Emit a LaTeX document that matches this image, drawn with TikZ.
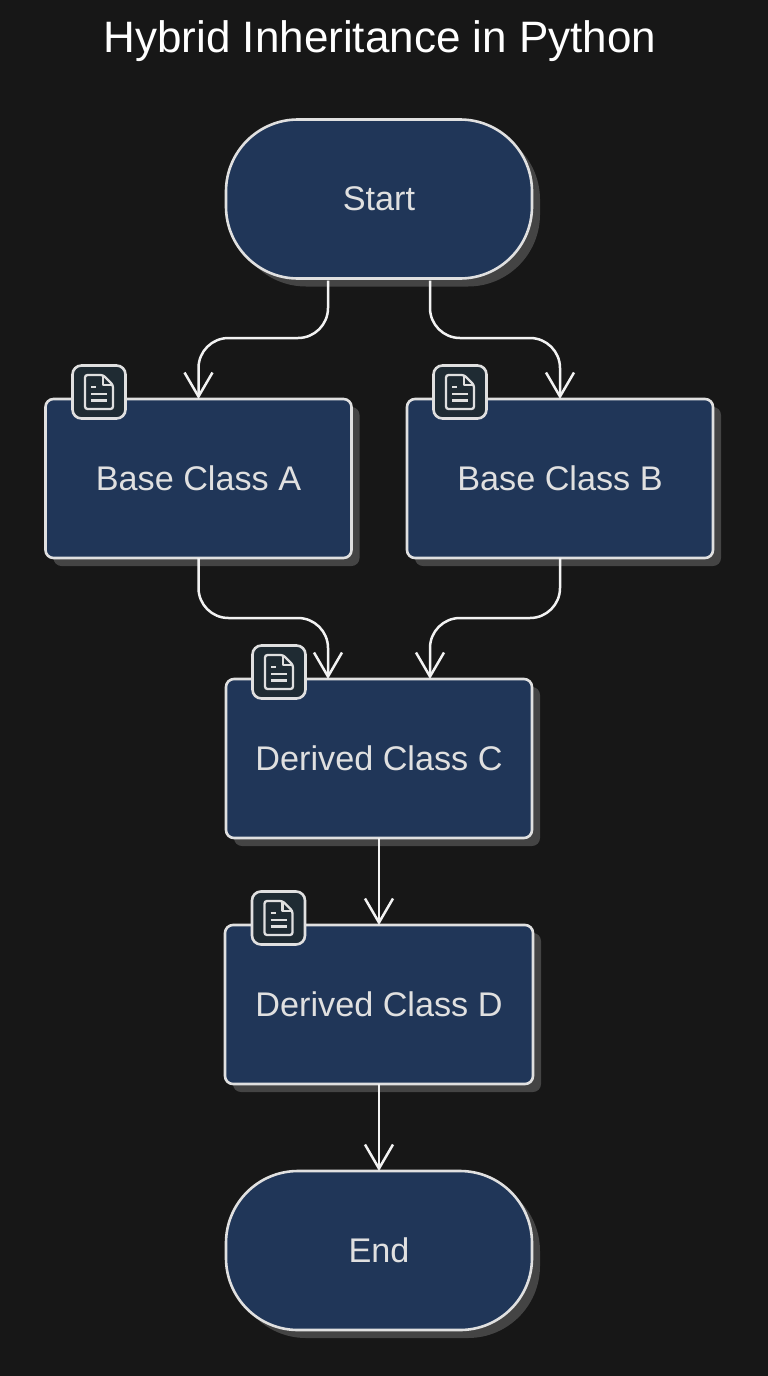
\documentclass[tikz,border=0pt]{standalone}
\usepackage{fontspec}
\setmainfont{Liberation Sans}
\usetikzlibrary{arrows.meta,shadows,calc}
\definecolor{bgc}{HTML}{171717}
\definecolor{nodefill}{HTML}{203658}
\definecolor{edgec}{HTML}{E0E0E0}
\definecolor{shadowc}{HTML}{444444}
\definecolor{iconfill}{HTML}{1F2B33}
\tikzset{
  base/.style={draw=edgec,line width=2.6pt,fill=nodefill,text=edgec,font=\fontsize{34.2}{36}\selectfont,
    minimum width=306pt,minimum height=159pt,inner sep=0pt,outer sep=0pt,
    drop shadow={shadow xshift=8pt,shadow yshift=-8pt,fill=shadowc,opacity=1}},
  stadium/.style={base,rounded corners=72pt},
  boxnode/.style={base,rounded corners=8pt},
  iconbox/.style={draw=edgec,line width=2.6pt,fill=iconfill,rounded corners=9pt,minimum width=53pt,minimum height=53pt,inner sep=0pt,outer sep=0pt},
  conn/.style={draw=white!95!black,line width=2.5pt,-{Straight Barb[length=24pt,width=28pt,line width=2.5pt]}},
  curved/.style={conn,rounded corners=30pt},
  docicon/.pic={
    \draw[edgec,line width=2.3pt,line join=round,rounded corners=2.5pt] (-14,-17) -- (4,-17) -- (14,-7) -- (14,17) -- (-14,17) -- cycle;
    \draw[edgec,line width=2.3pt,line join=round] (4,-17) -- (4,-7) -- (14,-7);
    \draw[edgec,line width=2.3pt] (-8,-5) -- (-3,-5) (-8,2) -- (8,2) (-8,8.5) -- (8,8.5);
  }
}
\begin{document}
\begin{tikzpicture}[x=1pt,y=-1pt]
\fill[bgc] (0,0) rectangle (768,1376);
\useasboundingbox (0,0) rectangle (768,1376);
\node[text=white,font=\fontsize{44}{48}\selectfont,inner sep=0pt] (title) at (380,41) {Hybrid Inheritance in Python};
\node[stadium] (start) at (379,199) {Start};
\node[boxnode] (a) at (198.5,478.5) {Base Class A};
\node[boxnode] (b) at (560,478.5) {Base Class B};
\node[boxnode] (c) at (379,758.5) {Derived Class C};
\node[boxnode,minimum width=308pt] (d) at (379,1004.5) {Derived Class D};
\node[stadium] (end) at (379,1250.5) {End};
\node[iconbox] (ia) at (99,392) {};
\node[iconbox] (ib) at (460,392) {};
\node[iconbox] (ic) at (279,672) {};
\node[iconbox] (id) at (278.5,918) {};
\pic at (ia) {docicon};
\pic at (ib) {docicon};
\pic at (ic) {docicon};
\pic at (id) {docicon};
\coordinate (sl) at ($(start.south)+(-51,2)$);
\coordinate (sr) at ($(start.south)+(51,2)$);
\coordinate (cl) at ($(c.north)+(-51,0)$);
\coordinate (cr) at ($(c.north)+(51,0)$);
\coordinate (m1) at ($(a.north)+(0,-61)$);
\coordinate (m2) at ($(b.north)+(0,-61)$);
\coordinate (m3) at ($(cl)+(0,-61)$);
\coordinate (m4) at ($(cr)+(0,-61)$);
\draw[curved] (sl) -- (sl |- m1) -- (m1) -- (a.north);
\draw[curved] (sr) -- (sr |- m2) -- (m2) -- (b.north);
\draw[curved] (a.south) -- (a.south |- m3) -- (m3) -- (cl);
\draw[curved] (b.south) -- (b.south |- m4) -- (m4) -- (cr);
\draw[conn] (c.south) -- (d.north);
\draw[conn] (d.south) -- (end.north);
\end{tikzpicture}
\end{document}
